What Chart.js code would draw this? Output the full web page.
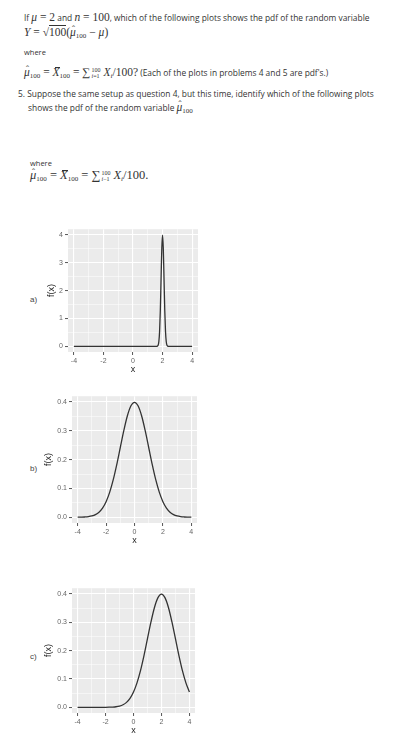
<!DOCTYPE html>
<html>
<head>
<meta charset="utf-8">
<script src="https://cdn.jsdelivr.net/npm/chart.js@4/dist/chart.umd.min.js"></script>
<style>
  body { margin: 0; background: #fff; width: 396px; height: 747px; position: relative; overflow: hidden; }
  .t { position: absolute; white-space: nowrap; font: 8.4px "Open Sans", sans-serif; color: #333; line-height: 12px; }
  .m { font-family: "Liberation Serif", serif; font-size: 11.5px; }
  .m i { font-style: italic; }
  .m .s { font-size: 7px; vertical-align: -2px; line-height: 0; }
  .sq { border-top: 0.8px solid #333; }
  .lim { display: inline-flex; flex-direction: column; vertical-align: middle; font-size: 6px; line-height: 6px; margin: 0 3px 0 1px; }
  .hat, .bar { position: relative; display: inline-block; }
  .hat::after { content: "\02C6"; position: absolute; left: 2px; top: -3px; font-style: normal; font-size: 9px; }
  .bar::after { content: ""; position: absolute; left: 2px; right: 0; top: 1px; border-top: 0.8px solid #333; }
  .lbl { position: absolute; font: 8px "Liberation Sans", sans-serif; color: #444; }
  .box { position: absolute; }
</style>
</head>
<body>

<div class="t" style="left:24px; top:11px;">If <span class="m"><i>μ</i> = 2</span> and <span class="m"><i>n</i> = 100</span>, which of the following plots shows the pdf of the random variable</div>
<div class="t" style="left:24px; top:26px;"><span class="m"><i>Y</i> = √<span class="sq">100</span>(<i class="hat">μ</i><span class="s">100</span> − <i>μ</i>)</span></div>
<div class="t" style="left:24px; top:46px; font-size:7.5px;">where</div>
<div class="t" style="left:24px; top:66px;"><span class="m"><i class="hat">μ</i><span class="s">100</span> = <i class="bar">X</i><span class="s">100</span> = ∑<span class="lim"><span>100</span><span><i>i</i>=1</span></span><i>X</i><span class="s"><i>i</i></span>/100?</span> (Each of the plots in problems 4 and 5 are pdf's.)</div>
<div class="t" style="left:18px; top:88px;">5. Suppose the same setup as question 4, but this time, identify which of the following plots</div>
<div class="t" style="left:28px; top:101px;">shows the pdf of the random variable <span class="m"><i class="hat">μ</i><span class="s">100</span></span></div>

<div class="t" style="left:30px; top:157px; font-size:7.5px;">where</div>
<div class="t" style="left:30px; top:169px;"><span class="m" style="font-size:12.5px;"><i class="hat">μ</i><span class="s">100</span> = <i class="bar">X</i><span class="s">100</span> = ∑<span class="lim"><span>100</span><span><i>i</i>−1</span></span><i>X</i><span class="s"><i>i</i></span>/100.</span></div>

<div class="lbl" style="left:30px; top:295px;">a)</div>
<div class="lbl" style="left:30px; top:464px;">b)</div>
<div class="lbl" style="left:30px; top:652px;">c)</div>

<div class="box" style="left:40px; top:223px;"><canvas id="plotA" width="162" height="155"></canvas></div>
<div class="box" style="left:40px; top:390px;"><canvas id="plotB" width="161" height="159"></canvas></div>
<div class="box" style="left:40px; top:582px;"><canvas id="plotC" width="159" height="157"></canvas></div>

<script>
// plot a) - narrow peak at 2
const xA = [-4, 1.6, 1.7, 1.75, 1.8, 1.85, 1.9, 1.95, 2, 2.05, 2.1, 2.15, 2.2, 2.25, 2.3, 2.4, 4];
const yA = [0, 0.001, 0.044, 0.175, 0.54, 1.295, 2.42, 3.521, 3.989, 3.521, 2.42, 1.295, 0.54, 0.175, 0.044, 0.001, 0];

// plots b) and c) share the x grid
const xGrid = [-4, -3.75, -3.5, -3.25, -3, -2.75, -2.5, -2.25, -2, -1.75, -1.5, -1.25, -1, -0.75, -0.5, -0.25,
  0, 0.25, 0.5, 0.75, 1, 1.25, 1.5, 1.75, 2, 2.25, 2.5, 2.75, 3, 3.25, 3.5, 3.75, 4];
const yB = [0.0001, 0.0004, 0.0009, 0.002, 0.0044, 0.0091, 0.0175, 0.0317, 0.054, 0.0863, 0.1295, 0.1826, 0.242, 0.3011, 0.3521, 0.3867,
  0.3989, 0.3867, 0.3521, 0.3011, 0.242, 0.1826, 0.1295, 0.0863, 0.054, 0.0317, 0.0175, 0.0091, 0.0044, 0.002, 0.0009, 0.0004, 0.0001];
const yC = [0, 0, 0, 0, 0, 0, 0, 0, 0.0001, 0.0004, 0.0009, 0.002, 0.0044, 0.0091, 0.0175, 0.0317,
  0.054, 0.0863, 0.1295, 0.1826, 0.242, 0.3011, 0.3521, 0.3867, 0.3989, 0.3867, 0.3521, 0.3011, 0.242, 0.1826, 0.1295, 0.0863, 0.054];

// ticks
const xMajor = [-4, -2, 0, 2, 4];
const xMinor = [-3, -1, 1, 3];
const yMajorA = [0, 1, 2, 3, 4];
const yMinorA = [0.5, 1.5, 2.5, 3.5];
const yMajorB = [0, 0.1, 0.2, 0.3, 0.4];
const yMinorB = [0.05, 0.15, 0.25, 0.35];

/* fundo cinza do painel (estilo ggplot) */
const panelBg = {
  id: 'panelBg',
  beforeDraw(chart) {
    const {ctx, chartArea: a} = chart;
    ctx.save();
    ctx.fillStyle = '#EBEBEB';
    ctx.fillRect(a.left, a.top, a.right - a.left, a.bottom - a.top);
    ctx.restore();
  }
};

function axisGrid(minor) {
  return {
    color: '#fff',
    lineWidth: c => (c.tick && minor.includes(c.tick.value)) ? 0.5 : 1.1,
    tickColor: c => (c.tick && minor.includes(c.tick.value)) ? 'rgba(0,0,0,0)' : '#555',
    tickLength: 3,
    tickWidth: 1
  };
}

function makePlot(id, xs, ys, yMajor, yMinor, yMin, yMax, yWidth, titleGap, fmt) {
  const ctx = document.getElementById(id).getContext('2d');
  return new Chart(ctx, {
    type: 'line',
    data: {
      datasets: [{
        data: xs.map((x, i) => ({x: x, y: ys[i]})),
        borderColor: '#333',
        borderWidth: 1.3,
        pointRadius: 0,
        cubicInterpolationMode: 'monotone'
      }]
    },
    options: {
      responsive: false,
      animation: false,
      layout: {padding: {left: 0, right: 4, top: 0, bottom: 0}},
      scales: {
        x: {
          type: 'linear',
          min: -4.4,
          max: 4.4,
          afterBuildTicks: s => { s.ticks = xMajor.concat(xMinor).sort((a, b) => a - b).map(v => ({value: v})); },
          afterFit: s => { s.height = 26; },
          grid: axisGrid(xMinor),
          border: {display: false},
          ticks: {
            autoSkip: false,
            maxRotation: 0,
            padding: 2,
            color: '#666',
            font: {family: 'Liberation Sans', size: 7},
            callback: v => xMinor.includes(v) ? '' : String(v)
          },
          title: {
            display: true,
            text: 'x',
            color: '#222',
            padding: {top: 0, bottom: 3},
            font: {family: 'Liberation Sans', size: 9}
          }
        },
        y: {
          min: yMin,
          max: yMax,
          afterBuildTicks: s => { s.ticks = yMajor.concat(yMinor).sort((a, b) => a - b).map(v => ({value: v})); },
          afterFit: s => { s.width = yWidth; },
          grid: axisGrid(yMinor),
          border: {display: false},
          ticks: {
            autoSkip: false,
            padding: 2,
            color: '#666',
            font: {family: 'Liberation Sans', size: 7},
            callback: v => yMinor.includes(v) ? '' : fmt(v)
          },
          title: {
            display: true,
            text: 'f(x)',
            color: '#222',
            padding: {top: titleGap, bottom: 0},
            font: {family: 'Liberation Sans', size: 9}
          }
        }
      },
      plugins: {
        legend: {display: false},
        tooltip: {enabled: false}
      }
    },
    plugins: [panelBg]
  });
}

makePlot('plotA', xA, yA, yMajorA, yMinorA, -0.2, 4.2, 28, 6, v => String(v));
makePlot('plotB', xGrid, yB, yMajorB, yMinorB, -0.02, 0.42, 32, 3, v => v.toFixed(1));
makePlot('plotC', xGrid, yC, yMajorB, yMinorB, -0.02, 0.42, 32, 3, v => v.toFixed(1));
</script>
</body>
</html>
